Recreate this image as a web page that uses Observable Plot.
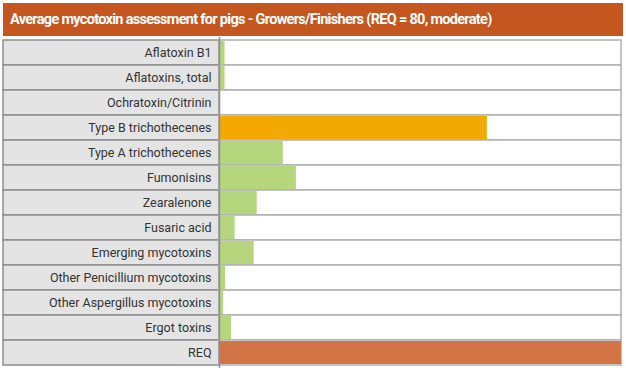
<!DOCTYPE html>
<html>
<head>
<meta charset="utf-8">
<script src="https://cdn.jsdelivr.net/npm/d3@7"></script>
<script src="https://cdn.jsdelivr.net/npm/@observablehq/plot@0.6"></script>
<style>
  html, body { margin: 0; padding: 0; background: white; }
  #title {
    margin: 3px 3px 0 3px;
    height: 33px;
    line-height: 33px;
    padding-left: 7px;
    background: #c4561f;
    color: white;
    font-family: Roboto, sans-serif;
    font-weight: 700;
    font-size: 14.5px;
    letter-spacing: -0.7px;
    white-space: nowrap;
    overflow: hidden;
  }
</style>
</head>
<body>
<div id="title"></div>
<div id="chart"></div>
<script>
const title = "Average mycotoxin assessment for pigs - Growers/Finishers (REQ = 80, moderate)";
const categories = [
  "Aflatoxin B1", "Aflatoxins, total", "Ochratoxin/Citrinin", "Type B trichothecenes",
  "Type A trichothecenes", "Fumonisins", "Zearalenone", "Fusaric acid",
  "Emerging mycotoxins", "Other Penicillium mycotoxins", "Other Aspergillus mycotoxins",
  "Ergot toxins", "REQ"
];
const values = [1.1, 1.1, 0, 53.3, 12.7, 15.3, 7.5, 3.1, 6.9, 1.2, 0.8, 2.4, 80];
const levels = ["low", "low", "low", "high", "low", "low", "low", "low", "low", "low", "low", "low", "req"];
const reqMax = 80;

document.getElementById("title").textContent = title;

const data = categories.map((name, i) => ({name, value: values[i], level: levels[i]}));

// left label column cells (gray), drawn with the y band scale
function labelColumn(index, scales, values, dimensions) {
  const y = scales.y;
  const bw = y.bandwidth ? y.bandwidth() : (dimensions.height - dimensions.marginTop - dimensions.marginBottom) / categories.length;
  const g = d3.create("svg:g");
  g.selectAll("rect").data(categories).join("rect")
    .attr("x", 3)
    .attr("y", d => y(d))
    .attr("width", dimensions.marginLeft - 3)
    .attr("height", bw)
    .attr("fill", "#e4e4e4")
    .attr("stroke", "#8e8e8e")
    .attr("stroke-width", 1.5);
  return g.node();
}

const chart = Plot.plot({
  width: 626,
  height: 335,
  marginLeft: 219,
  marginRight: 5,
  marginTop: 1,
  marginBottom: 3,
  style: {fontFamily: "Roboto, sans-serif", background: "white"},
  x: {domain: [0, reqMax], axis: null},
  y: {domain: categories, padding: 0, axis: null},
  color: {domain: ["low", "high", "req"], range: ["#b5d67c", "#f4a900", "#d37446"]},
  marks: [
    labelColumn,
    Plot.barX(data, {y: "name", x1: 0, x2: reqMax, fill: "white", stroke: "#b0b0b0", strokeWidth: 1.5}),
    Plot.barX(data, {y: "name", x: "value", fill: "level", insetTop: 1, insetBottom: 1}),
    Plot.ruleX([0], {stroke: "#8e8e8e", strokeWidth: 1.5}),
    Plot.text(data, {y: "name", text: "name", frameAnchor: "left", dx: -8, textAnchor: "end", fontSize: 12.5, fill: "#333"})
  ]
});
document.getElementById("chart").appendChild(chart);
</script>
</body>
</html>
